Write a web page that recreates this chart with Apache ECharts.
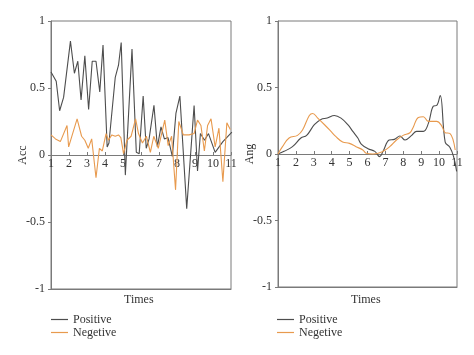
<!DOCTYPE html>
<html><head><meta charset="utf-8">
<script src="https://cdn.jsdelivr.net/npm/echarts@6/dist/echarts.min.js"></script>
<style>html,body{margin:0;padding:0;background:#fff}#c{width:474px;height:355px}</style>
</head><body><div id="c"></div>
<script>
var seriesNames = ['Positive', 'Negetive'];
var yTicks = [-1, -0.5, 0, 0.5, 1];
var xTicks = [1, 2, 3, 4, 5, 6, 7, 8, 9, 10, 11];

var accPosT = [1.0, 1.29, 1.48, 1.70, 2.08, 2.30, 2.49, 2.67, 2.88, 3.09, 3.29, 3.50, 3.71, 3.89, 4.12, 4.22, 4.57, 4.75, 4.90, 5.13, 5.50, 5.74, 5.90, 6.12, 6.29, 6.45, 6.72, 6.91, 7.11, 7.30, 7.50, 7.74, 7.94, 8.16, 8.54, 8.95, 9.14, 9.30, 9.53, 9.75, 10.12, 10.55, 11.05];
var accPosV = [0.62, 0.55, 0.33, 0.43, 0.85, 0.61, 0.70, 0.41, 0.74, 0.34, 0.70, 0.70, 0.47, 0.82, 0.06, 0.09, 0.58, 0.67, 0.84, -0.15, 0.79, 0.02, 0.01, 0.44, 0.05, 0.12, 0.37, 0.06, 0.21, 0.12, 0.13, -0.01, 0.31, 0.44, -0.40, 0.37, -0.12, 0.16, 0.11, 0.16, 0.02, 0.10, 0.17];

var accNegT = [1.0, 1.25, 1.52, 1.89, 1.98, 2.45, 2.70, 2.88, 3.07, 3.26, 3.50, 3.69, 3.85, 4.06, 4.19, 4.38, 4.57, 4.75, 4.88, 5.03, 5.22, 5.45, 5.70, 5.86, 6.08, 6.30, 6.52, 6.71, 6.96, 7.32, 7.51, 7.70, 7.92, 8.10, 8.35, 8.67, 8.95, 9.14, 9.33, 9.52, 9.70, 9.89, 10.12, 10.33, 10.55, 10.77, 10.96];
var accNegV = [0.15, 0.12, 0.10, 0.22, 0.06, 0.27, 0.14, 0.11, 0.05, 0.12, -0.17, 0.05, 0.03, 0.16, 0.11, 0.15, 0.14, 0.15, 0.13, 0.01, 0.11, 0.14, 0.27, 0.16, 0.09, 0.14, 0.02, 0.14, 0.05, 0.26, 0.07, 0.14, -0.26, 0.25, 0.15, 0.15, 0.16, 0.26, 0.22, 0.03, 0.22, 0.27, 0.06, 0.20, -0.20, 0.24, 0.19];

var angPosT = [1.0, 1.34, 1.81, 2.28, 2.60, 3.03, 3.40, 3.75, 4.15, 4.52, 4.90, 5.18, 5.46, 5.65, 6.03, 6.41, 6.68, 6.87, 7.21, 7.50, 7.81, 8.10, 8.47, 8.74, 9.12, 9.40, 9.68, 9.87, 10.06, 10.34, 10.60, 10.81, 10.98];
var angPosV = [0.0, 0.02, 0.055, 0.12, 0.14, 0.22, 0.26, 0.27, 0.29, 0.27, 0.22, 0.17, 0.12, 0.075, 0.04, 0.02, -0.02, 0.02, 0.105, 0.11, 0.135, 0.105, 0.14, 0.17, 0.17, 0.23, 0.36, 0.365, 0.44, 0.09, 0.05, -0.02, -0.13];

var angNegT = [1.0, 1.25, 1.62, 2.09, 2.37, 2.75, 2.94, 3.22, 3.60, 3.96, 4.24, 4.61, 4.99, 5.36, 5.74, 5.93, 6.30, 6.87, 7.24, 7.62, 7.99, 8.37, 8.55, 8.84, 9.12, 9.40, 9.87, 10.15, 10.34, 10.60, 10.90];
var angNegV = [0.0, 0.055, 0.12, 0.14, 0.18, 0.29, 0.305, 0.27, 0.22, 0.17, 0.13, 0.09, 0.08, 0.055, 0.03, 0.005, 0.0, 0.02, 0.055, 0.105, 0.14, 0.16, 0.2, 0.275, 0.28, 0.245, 0.245, 0.21, 0.16, 0.155, 0.03];

function pairs(t, v) { return t.map(function (x, i) { return [x, v[i]]; }); }

var FONT = 'Liberation Serif';
var GRAY = '#4d4d4d';
var ORANGE = '#e89a4e';
var BOX = '#7a7a7a';

function xAx(gi, off) {
  return {
    type: 'value', gridIndex: gi, min: xTicks[0], max: xTicks[xTicks.length - 1], interval: 1,
    position: 'top', offset: off,
    axisLine: { onZero: false, lineStyle: { color: BOX, width: 1 } },
    axisTick: { inside: false, length: 3, lineStyle: { color: BOX } },
    axisLabel: { inside: true, fontFamily: FONT, fontSize: 12, color: '#333', margin: 3, showMaxLabel: true, hideOverlap: false },
    splitLine: { show: false }
  };
}
function frameAx(gi) {
  return {
    type: 'value', gridIndex: gi, min: xTicks[0], max: xTicks[xTicks.length - 1], interval: 1,
    position: 'bottom', offset: 0,
    axisLine: { show: true, onZero: false, lineStyle: { color: BOX, width: 1 } },
    axisTick: { show: false }, axisLabel: { show: false }, splitLine: { show: false }
  };
}
function yAx(gi, name) {
  return {
    type: 'value', gridIndex: gi, min: yTicks[0], max: yTicks[yTicks.length - 1], interval: 0.5,
    name: name, nameLocation: 'middle', nameGap: 22, nameMoveOverlap: false,
    nameTextStyle: { fontFamily: FONT, fontSize: 12, color: '#333' },
    axisLine: { show: true, lineStyle: { color: BOX } },
    axisTick: { show: true, length: 3, lineStyle: { color: BOX } },
    axisLabel: { fontFamily: FONT, fontSize: 12, color: '#333', margin: 6 },
    splitLine: { show: false }
  };
}
function ser(name, gi, data, color, smooth) {
  return {
    name: name, type: 'line', xAxisIndex: gi, yAxisIndex: gi, data: data,
    showSymbol: false, symbol: 'none', smooth: smooth, animation: false,
    lineStyle: { color: color, width: 1.1 }, itemStyle: { color: color }
  };
}
function legend(left) {
  return {
    left: left, top: 313, padding: 0, orient: 'vertical', icon: 'rect', itemWidth: 17, itemHeight: 1.2, itemGap: 0,
    data: seriesNames,
    textStyle: { fontFamily: FONT, fontSize: 12, color: '#333', lineHeight: 13 }
  };
}

var chart = echarts.init(document.getElementById('c'), null, { renderer: 'canvas' });
chart.setOption({
  animation: false,
  grid: [
    { left: 51, right: 243, top: 21, bottom: 66, show: true, borderColor: BOX, borderWidth: 1 },
    { left: 278, right: 17, top: 21, bottom: 68, show: true, borderColor: BOX, borderWidth: 1 }
  ],
  xAxis: [xAx(0, -134), xAx(1, -133), frameAx(0), frameAx(1)],
  yAxis: [yAx(0, 'Acc'), yAx(1, 'Ang')],
  legend: [legend(51), legend(277)],
  graphic: [
    { type: 'text', left: 124, top: 294, style: { text: 'Times', font: '12px "' + FONT + '"', fill: '#333' } },
    { type: 'text', left: 351, top: 294, style: { text: 'Times', font: '12px "' + FONT + '"', fill: '#333' } }
  ],
  series: [
    ser(seriesNames[0], 0, pairs(accPosT, accPosV), GRAY, false),
    ser(seriesNames[1], 0, pairs(accNegT, accNegV), ORANGE, false),
    ser(seriesNames[0], 1, pairs(angPosT, angPosV), GRAY, 0.4),
    ser(seriesNames[1], 1, pairs(angNegT, angNegV), ORANGE, 0.4)
  ]
});
</script></body></html>
